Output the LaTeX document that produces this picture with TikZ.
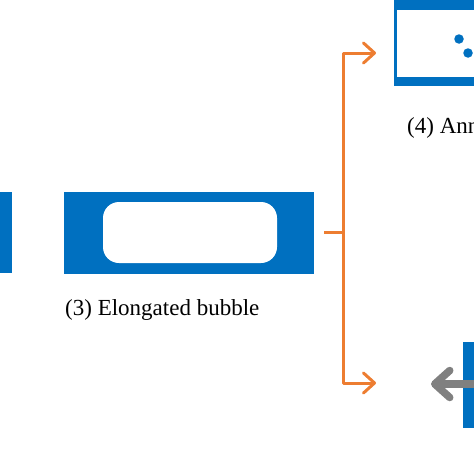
\documentclass[tikz,border=0pt]{standalone}
\usepackage{fontspec}
\setmainfont{Liberation Serif}
\usetikzlibrary{arrows.meta}
\definecolor{cblue}{RGB}{0,112,192}
\definecolor{corange}{RGB}{237,125,49}
\definecolor{cgray}{RGB}{128,128,128}
\begin{document}
\begin{tikzpicture}[x=1pt,y=-1pt,
  bluebox/.style={fill=cblue,draw=none,inner sep=0pt,outer sep=0pt},
  hole/.style={fill=white,draw=none,inner sep=0pt,outer sep=0pt},
  dot/.style={circle,fill=cblue,draw=none,inner sep=0pt,minimum size=9.5pt},
  flow/.style={draw=corange,line width=3pt,line join=round},
  flowtip/.style={-{Straight Barb[length=11pt,width=20pt,line width=3pt,round]}},
  back/.style={draw=cgray,line width=7.5pt,-{Straight Barb[length=15pt,width=27pt,line width=7.5pt,round]}},
  lbl/.style={font=\fontsize{23}{27}\selectfont,inner sep=0pt}]
\useasboundingbox (0,0) rectangle (474,474);
\clip (0,0) rectangle (474,474);
% left partial pattern
\node[bluebox,minimum width=52pt,minimum height=81pt] (left) at (-14,232.5) {};
% elongated bubble
\node[bluebox,minimum width=250pt,minimum height=82pt] (mid) at (189,233) {};
\node[hole,rounded corners=16pt,minimum width=174pt,minimum height=61pt] (bub) at (190,232.5) {};
\node[lbl,anchor=base west] (l3) at (65,315) {(3) Elongated bubble};
% annular (top right)
\node[bluebox,minimum width=100pt,minimum height=96pt,anchor=north west] (ann) at (394,-10) {};
\node[hole,minimum width=100pt,minimum height=67pt,anchor=north west] (annin) at (397,10) {};
\node[dot] (d1) at (459,39) {};
\node[dot] (d2) at (468,53) {};
\node[lbl,anchor=base west] (l4) at (407,133) {(4) Ann};
% bottom right bar
\node[bluebox,minimum width=22pt,minimum height=86pt,anchor=north west] (bar) at (463,342) {};
% connectors
\coordinate (j) at (343,232.5);
\coordinate (s) at (324,232.5);
\coordinate (t4) at (376,53);
\coordinate (t5) at (376,383);
\draw[flow] (s) -- (j);
\draw[flow,flowtip] (j) |- (t4);
\draw[flow,flowtip] (j) |- (t5);
\coordinate (gtip) at (431,384);
\draw[back] (bar.center |- gtip) -- (gtip);
\end{tikzpicture}
\end{document}
